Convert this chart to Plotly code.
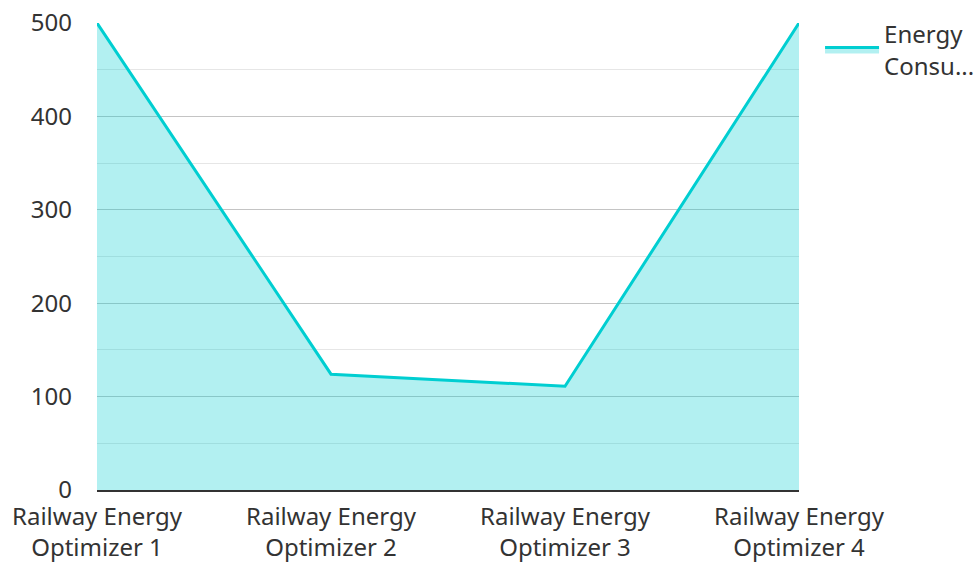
import plotly.graph_objects as go

categories = ["Railway Energy<br>Optimizer 1", "Railway Energy<br>Optimizer 2",
              "Railway Energy<br>Optimizer 3", "Railway Energy<br>Optimizer 4"]
energy = [500, 124, 111, 500]
series_name = "Energy<br>Consu..."
y_ticks = [0, 100, 200, 300, 400, 500]

fig = go.Figure()
fig.add_trace(go.Scatter(
    x=categories, y=energy, name=series_name, mode="lines",
    line=dict(color="#00CED1", width=3),
    fill="tozeroy", fillcolor="rgba(0,206,209,0.3)",
))

font = dict(family="Noto Sans, Open Sans, sans-serif", size=24, color="#333333")
fig.update_layout(
    width=978, height=564,
    margin=dict(l=97, r=179, t=23, b=74, autoexpand=False),
    paper_bgcolor="white", plot_bgcolor="white",
    font=font,
    showlegend=True,
    legend=dict(xref="container", yref="container", x=0.8385, y=0.979,
                xanchor="left", yanchor="top", itemwidth=54,
                font=font, bgcolor="rgba(0,0,0,0)"),
    xaxis=dict(range=[0, 3], showgrid=False, showline=True, linecolor="#333333",
               linewidth=2, ticks="", tickfont=font, fixedrange=True,
               ticklabelstandoff=4, automargin=False),
    yaxis=dict(range=[0, 500], tickvals=y_ticks, showgrid=True, gridcolor="#c4c4c4",
               gridwidth=1, zeroline=False, showline=False, ticks="", tickfont=font,
               ticklabelstandoff=24, automargin=False,
               minor=dict(dtick=50, showgrid=True, gridcolor="#e6e6e6", gridwidth=1)),
)
fig.write_html("out.html")
